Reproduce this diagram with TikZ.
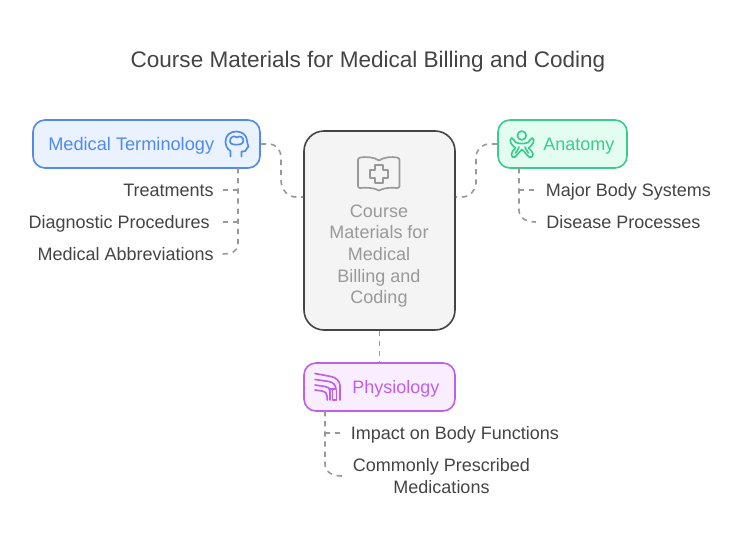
\documentclass[tikz,border=0pt]{standalone}
\usepackage{fontspec}
\setmainfont{Liberation Sans}
\definecolor{ink}{HTML}{444444}
\definecolor{dash}{HTML}{999999}
\definecolor{mute}{HTML}{999999}
\definecolor{bluS}{HTML}{4F8BEB}\definecolor{bluF}{HTML}{EBF2FF}
\definecolor{grnS}{HTML}{3CCB8F}\definecolor{grnF}{HTML}{E3FDF0}
\definecolor{purS}{HTML}{C05FE8}\definecolor{purF}{HTML}{F9EEFF}
\tikzset{
  x=0.75pt,y=-0.75pt,
  box/.style={draw=#1S,fill=#1F,line width=1.2pt,rounded corners=9pt,inner sep=0pt},
  lab/.style={font=\fontsize{13.5}{16.2}\selectfont,inner sep=0pt,text=ink},
  conn/.style={draw=dash,line width=1.2pt,dash pattern=on 4pt off 3.6pt},
  ico/.style={line width=1.25pt,line cap=round,line join=round},
}
\begin{document}
\begin{tikzpicture}
\useasboundingbox (0,0) rectangle (737,542);
\fill[white] (0,0) rectangle (737,542);
\node[font=\fontsize{16.9}{20}\selectfont,text=ink,inner sep=0pt,anchor=base] (title) at (368,68) {Course Materials for Medical Billing and Coding};

% boxes
\node[box=blu,minimum width=170.25pt,minimum height=36pt] (mt) at (146.5,144) {};
\node[box=grn,minimum width=96.75pt,minimum height=36pt] (an) at (562.5,144) {};
\node[box=pur,minimum width=113.25pt,minimum height=36pt] (ph) at (379.5,387) {};
\node[draw=ink,fill=black!4.5,line width=1.2pt,rounded corners=15pt,minimum width=113.25pt,minimum height=149.25pt,inner sep=0pt] (ce) at (379.5,230.5) {};

% named free ends
\coordinate (b1) at (222,190);
\coordinate (b2) at (222,222);
\coordinate (b3) at (222,254);
\coordinate (c1) at (536,190);
\coordinate (c2) at (536,222);
\coordinate (d1) at (342,433);
\coordinate (d2) at (342,476);

% connectors
\draw[conn] (mt.east) -- ++(7,0) .. controls +(9,0) and (281,150) .. (281,158) -- (281,180) .. controls (281,190) and (288,197) .. (296,197) -- (ce.west |- 0,197);
\draw[conn] (an.west) -- ++(-7,0) .. controls +(-9,0) and (476,150) .. (476,158) -- (476,183) .. controls (476,190) and (470,197) .. (462,197) -- (ce.east |- 0,197);
\draw[conn] (ce.south) -- (ph.north);
\draw[conn] (238,168) -- (238,244) .. controls (238,251) and (232,254) .. (b3);
\draw[conn] (238,190) -- (b1);
\draw[conn] (238,222) -- (b2);
\draw[conn] (519,168) -- (519,210) .. controls (519,218) and (526,222) .. (c2);
\draw[conn] (519,190) -- (c1);
\draw[conn] (325,411) -- (325,464) .. controls (325,472) and (332,476) .. (d2);
\draw[conn] (325,433) -- (d1);

% labels
\node[lab,text=bluS,anchor=base west,font=\fontsize{13.65}{16.2}\selectfont] (mtL) at (48,150) {Medical Terminology};
\node[lab,text=grnS,anchor=base west] (anL) at (543,150) {Anatomy};
\node[lab,text=purS,anchor=base west] (phL) at (352,393) {Physiology};
\node[lab,anchor=base east] (t1) at (214,196) {Treatments};
\node[lab,anchor=base east] (t2) at (210,228) {Diagnostic Procedures};
\node[lab,anchor=base east] (t3) at (214,260) {Medical Abbreviations};
\node[lab,anchor=base west] (u1) at (545.5,196) {Major Body Systems};
\node[lab,anchor=base west] (u2) at (546,228) {Disease Processes};
\node[lab,anchor=base west] (v1) at (350.5,439) {Impact on Body Functions};
\node[lab,align=center] (v2) at (441.5,476) {Commonly Prescribed\\Medications};
\node[lab,text=mute,align=center] (ceL) at (379,256) {Course\\Materials for\\Medical\\Billing and\\Coding};

% book icon
\begin{scope}[ico,draw=mute]
\draw (379,160.5) .. controls (374,157) and (366,156.5) .. (360,157.5) .. controls (358.5,158) and (358,159) .. (358,160) -- (358,186) .. controls (358,187.5) and (359,188) .. (360,188) .. controls (366,187.5) and (374,187.5) .. (379,190.5) .. controls (384,187.5) and (392,187.5) .. (397,188) .. controls (398,188) and (399.5,187.5) .. (399.5,186) -- (399.5,160) .. controls (399.5,159) and (399,158) .. (397,157.5) .. controls (392,156.5) and (384,157) .. (379,160.5) -- cycle;
\draw (375,165) -- (383,165) -- (383,170) -- (388,170) -- (388,178) -- (383,178) -- (383,183) -- (375,183) -- (375,178) -- (370,178) -- (370,170) -- (375,170) -- cycle;
\end{scope}

% head icon
\begin{scope}[ico,draw=bluS]
\draw (230.5,156.5) -- (230.5,151) .. controls (227,149) and (225.5,145) .. (225.5,141.5) .. controls (225.5,135) and (230.5,131.5) .. (236.5,131.5) .. controls (242.5,131.5) and (247,135.5) .. (247,141) .. controls (247,143) and (248,145) .. (248.5,146.5) .. controls (248,148) and (247,148) .. (246.5,149) .. controls (246.5,151) and (245,151.5) .. (241.5,151.5) -- (241.5,156.5);
\draw (233,136.5) .. controls (235,136) and (236,137) .. (237,137.5) .. controls (238,136.5) and (240,136) .. (241.5,137) .. controls (244,138.5) and (244,143) .. (241,144) .. controls (238,145) and (233,145) .. (231,143.5) .. controls (229,141.5) and (230,137.5) .. (233,136.5) -- cycle;
\end{scope}

% body icon
\begin{scope}[ico,draw=grnS]
\draw (521.8,135.5) circle (4.4);
\draw (516,142.5) .. controls (514,141.5) and (513.5,138) .. (511.8,138) .. controls (510,138) and (510,141) .. (510.8,143) .. controls (511.5,145) and (514,146.5) .. (515.5,148) .. controls (514,150) and (511.5,151.5) .. (511.5,154) .. controls (511.5,157) and (513.5,158) .. (515,157) .. controls (517.5,155) and (519,152) .. (522,149.5) .. controls (525,152) and (526.5,155) .. (529,157) .. controls (530.5,158) and (533,157) .. (533,154) .. controls (533,151.5) and (530,150) .. (528.5,148) .. controls (530,146.5) and (532.5,145) .. (533.2,143) .. controls (534,141) and (534,138) .. (532.2,138) .. controls (530.5,138) and (530,141.5) .. (528,142.5) .. controls (524,144) and (520,144) .. (516,142.5) -- cycle;
\draw (519,147) .. controls (518.5,149) and (517,151) .. (515.5,153);
\draw (525,147) .. controls (525.5,149) and (527,151) .. (528.5,153);
\end{scope}

% joint icon
\begin{scope}[ico,draw=purS]
\draw (315,373.5) -- (331,376.5) .. controls (336,377.5) and (340,381) .. (340,386) -- (340,400);
\draw (315,379.5) -- (329,381.5) .. controls (333,382) and (335.5,385) .. (336,389) -- (330,389);
\draw (315,385) -- (325,386.5) .. controls (328,387) and (330,388) .. (330,391) -- (330,400);
\draw (315,390) -- (322,391) .. controls (325.5,391.5) and (327.3,394) .. (327.3,397) -- (327.3,400);
\draw (332.5,390) -- (332.5,400) -- (336.5,400) -- (336.5,390);
\end{scope}
\end{tikzpicture}
\end{document}
